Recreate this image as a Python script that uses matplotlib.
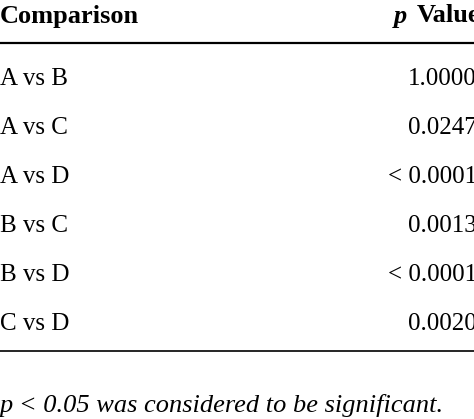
import matplotlib.pyplot as plt

plt.rcParams["font.family"] = ["Liberation Serif", "DejaVu Serif"]

comparisons = ["A vs B", "A vs C", "A vs D", "B vs C", "B vs D", "C vs D"]
p_values = ["1.0000", "0.0247", "< 0.0001", "0.0013", "< 0.0001", "0.0020"]
footnote = "p < 0.05 was considered to be significant."

fig = plt.figure(figsize=(4.74, 4.19), dpi=100)
ax = fig.add_axes([0, 0, 1, 1])
ax.set_xlim(0, 474)
ax.set_ylim(419, 0)
ax.axis("off")

fs = 18
ax.text(0, 16, "Comparison", fontsize=19, fontweight="bold", va="center", ha="left")
ax.text(480, 16, "Value", fontsize=19, fontweight="bold", va="center", ha="right")
ax.text(407, 16, "p", fontsize=19, fontweight="bold", style="italic",
        va="center", ha="right")
ax.plot([0, 474], [43, 43], color="black", lw=1.6)

for i, (c, p) in enumerate(zip(comparisons, p_values)):
    y = 79 + i * 49
    ax.text(0, y, c, fontsize=fs, va="center", ha="left")
    ax.text(477, y, p, fontsize=fs, va="center", ha="right")

ax.plot([0, 474], [351, 351], color="black", lw=1.2)
ax.text(0, 405, footnote, fontsize=19, style="italic", va="center", ha="left")

fig.savefig("out.png", dpi=100)
